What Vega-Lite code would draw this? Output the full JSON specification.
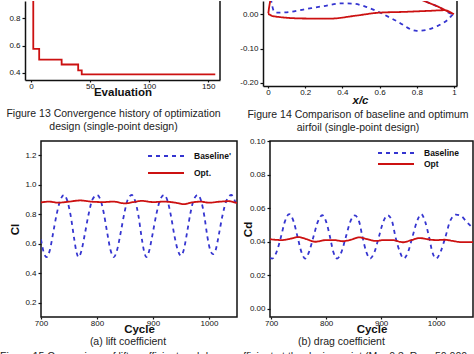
{
  "$schema": "https://vega.github.io/schema/vega-lite/v6.json",
  "padding": 0,
  "background": "white",
  "bounds": "full",
  "spacing": 3,
  "config": {
    "view": {"stroke": null},
    "font": "Liberation Sans",
    "axis": {
      "labelFont": "Liberation Sans", "labelFontSize": 8, "labelColor": "#111",
      "tickColor": "#111", "tickWidth": 1.2,
      "domainColor": "#111", "domainWidth": 1.5,
      "titleFont": "Liberation Sans", "titleFontSize": 11.5, "titleFontWeight": "bold", "titleColor": "#111",
      "grid": false, "labelFlush": false, "labelOverlap": false, "labelSeparation": 0
    },
    "axisX": {"tickSize": 2, "labelPadding": 0},
    "axisY": {"tickSize": 3, "labelPadding": 2},
    "title": {"font": "Liberation Sans", "fontWeight": "normal", "fontSize": 10.5, "color": "#222", "lineHeight": 13},
    "legend": {"labelFont": "Liberation Sans", "labelFontSize": 8.5, "labelFontWeight": "bold", "labelColor": "#111"}
  },
  "title": {
    "text": "Figure 15 Comparison of lift coefficient and drag coefficient at the design point (M = 0.3, Re = 50,000 and α = 4°)",
    "orient": "bottom", "anchor": "start", "frame": "bounds", "offset": 4, "dx": -5, "fontSize": 10.5
  },
  "resolve": {"scale": {"color": "independent", "strokeDash": "independent"}, "legend": {"color": "independent", "strokeDash": "independent"}},
  "vconcat": [
    {
      "bounds": "flush",
      "spacing": 0,
      "hconcat": [
        {"width": 20, "height": 10, "data": {"values": [{}]}, "mark": {"type": "rect", "opacity": 0}, "encoding": {}},
        {
          "width": 195, "height": 79,
          "title": {"text": ["Figure 13 Convergence history of optimization", "design (single-point design)"], "orient": "bottom", "anchor": "middle", "frame": "group", "dx": -9, "offset": 11},
          "layer": [
            {
              "data": {"values": [
                {"evaluation": 1, "objective": 1.2},
                {"evaluation": 2, "objective": 0.575},
                {"evaluation": 7, "objective": 0.498},
                {"evaluation": 26, "objective": 0.462},
                {"evaluation": 40, "objective": 0.419},
                {"evaluation": 43, "objective": 0.39},
                {"evaluation": 156, "objective": 0.39}
              ]},
              "mark": {"type": "line", "interpolate": "step-after", "color": "#cc1111", "strokeWidth": 1.8, "clip": true},
              "encoding": {
                "x": {"field": "evaluation", "type": "quantitative", "scale": {"domain": [-5, 160], "nice": false, "zero": false}, "axis": {"values": [0, 50, 100, 150], "title": "Evaluation", "titlePadding": -4, "labelOverlap": false}},
                "y": {"field": "objective", "type": "quantitative", "scale": {"domain": [0.349, 0.924], "nice": false, "zero": false}, "axis": {"values": [0.4, 0.6, 0.8], "format": ".1f", "title": null, "labelOverlap": false}}
              }
            },
            {
              "data": {"values": [{}]},
              "mark": {"type": "rule", "color": "#111", "strokeWidth": 1.5},
              "encoding": {"x": {"datum": 160}}
            }
          ]
        },
        {"width": 43, "height": 10, "data": {"values": [{}]}, "mark": {"type": "rect", "opacity": 0}, "encoding": {}},
        {
          "width": 194, "height": 85,
          "title": {"text": ["Figure 14 Comparison of baseline and optimum", "airfoil (single-point design)"], "orient": "bottom", "anchor": "middle", "frame": "group", "dx": -2, "offset": 4},
          "layer": [
            {
              "data": {"values": [
                {"series": "Baseline", "i": 0, "xc": 0.015, "yc": 0.045},
                {"series": "Baseline", "i": 1, "xc": 0.022, "yc": 0.025},
                {"series": "Baseline", "i": 2, "xc": 0.03, "yc": 0.01},
                {"series": "Baseline", "i": 3, "xc": 0.045, "yc": 0.004},
                {"series": "Baseline", "i": 4, "xc": 0.1, "yc": 0.005},
                {"series": "Baseline", "i": 5, "xc": 0.19, "yc": 0.013},
                {"series": "Baseline", "i": 6, "xc": 0.3, "yc": 0.023},
                {"series": "Baseline", "i": 7, "xc": 0.4, "yc": 0.031},
                {"series": "Baseline", "i": 8, "xc": 0.46, "yc": 0.03},
                {"series": "Baseline", "i": 9, "xc": 0.52, "yc": 0.022},
                {"series": "Baseline", "i": 10, "xc": 0.586, "yc": 0.008},
                {"series": "Baseline", "i": 11, "xc": 0.69, "yc": -0.02},
                {"series": "Baseline", "i": 12, "xc": 0.8, "yc": -0.049},
                {"series": "Baseline", "i": 13, "xc": 0.91, "yc": -0.035},
                {"series": "Baseline", "i": 14, "xc": 0.97, "yc": -0.015},
                {"series": "Baseline", "i": 15, "xc": 1.0, "yc": 0.0},
                {"series": "Baseline", "i": 16, "xc": 0.907, "yc": 0.023},
                {"series": "Baseline", "i": 17, "xc": 0.84, "yc": 0.0377},
                {"series": "Baseline", "i": 18, "xc": 0.82, "yc": 0.042},
                {"series": "Opt", "i": 0, "xc": 0.014, "yc": 0.045},
                {"series": "Opt", "i": 1, "xc": 0.006, "yc": 0.02},
                {"series": "Opt", "i": 2, "xc": 0.0, "yc": 0.0},
                {"series": "Opt", "i": 3, "xc": 0.02, "yc": -0.005},
                {"series": "Opt", "i": 4, "xc": 0.066, "yc": -0.009},
                {"series": "Opt", "i": 5, "xc": 0.19, "yc": -0.013},
                {"series": "Opt", "i": 6, "xc": 0.33, "yc": -0.0135},
                {"series": "Opt", "i": 7, "xc": 0.47, "yc": -0.005},
                {"series": "Opt", "i": 8, "xc": 0.6, "yc": 0.004},
                {"series": "Opt", "i": 9, "xc": 0.72, "yc": 0.006},
                {"series": "Opt", "i": 10, "xc": 0.86, "yc": 0.009},
                {"series": "Opt", "i": 11, "xc": 0.95, "yc": 0.011},
                {"series": "Opt", "i": 12, "xc": 1.0, "yc": 0.0},
                {"series": "Opt", "i": 13, "xc": 0.907, "yc": 0.023},
                {"series": "Opt", "i": 14, "xc": 0.84, "yc": 0.0377},
                {"series": "Opt", "i": 15, "xc": 0.82, "yc": 0.042}
              ]},
              "mark": {"type": "line", "interpolate": "monotone", "strokeWidth": 1.8, "clip": true},
              "encoding": {
                "x": {"field": "xc", "type": "quantitative", "scale": {"domain": [-0.027, 1.016], "nice": false, "zero": false}, "axis": {"values": [0, 0.2, 0.4, 0.6, 0.8, 1], "format": "~g", "title": "x/c", "titleFontStyle": "italic", "titlePadding": -2, "labelOverlap": false, "labelSeparation": 0}},
                "y": {"field": "yc", "type": "quantitative", "scale": {"domain": [-0.2087, 0.0377], "nice": false, "zero": false}, "axis": {"values": [-0.2, -0.1, 0], "labelExpr": "replace(format(datum.value, '.2f'), '−', '-')", "title": null, "labelOverlap": false}},
                "order": {"field": "i", "type": "quantitative"},
                "color": {"field": "series", "type": "nominal", "scale": {"domain": ["Baseline", "Opt"], "range": ["#3535d0", "#cc1111"]}, "legend": null},
                "strokeDash": {"field": "series", "type": "nominal", "scale": {"domain": ["Baseline", "Opt"], "range": [[4, 4], [1, 0]]}, "legend": null}
              }
            },
            {
              "data": {"values": [{}]},
              "mark": {"type": "rule", "color": "#111", "strokeWidth": 1.5},
              "encoding": {"x": {"datum": 1.016, "type": "quantitative", "axis": {"values": [0, 0.2, 0.4, 0.6, 0.8, 1], "format": "~g", "title": "x/c", "titleFontStyle": "italic", "titlePadding": -2, "labelOverlap": false, "labelSeparation": 0}}}
            }
          ]
        }
      ],
      "resolve": {"scale": {"color": "independent", "strokeDash": "independent"}}
    },
    {
      "bounds": "flush",
      "spacing": 0,
      "hconcat": [
        {"width": 36, "height": 10, "data": {"values": [{}]}, "mark": {"type": "rect", "opacity": 0}, "encoding": {}},
        {
          "width": 196, "height": 176,
          "view": {"stroke": "#111", "strokeWidth": 1.5},
          "title": {"text": "(a) lift coefficient", "orient": "bottom", "anchor": "middle", "frame": "group", "dx": -11, "offset": 2},
          "data": {"values": [
            {"series": "Baseline'", "cycle": 700, "cl": 0.63},
            {"series": "Baseline'", "cycle": 705, "cl": 0.54},
            {"series": "Baseline'", "cycle": 710, "cl": 0.51},
            {"series": "Baseline'", "cycle": 716, "cl": 0.56},
            {"series": "Baseline'", "cycle": 722, "cl": 0.68},
            {"series": "Baseline'", "cycle": 728, "cl": 0.8},
            {"series": "Baseline'", "cycle": 734, "cl": 0.89},
            {"series": "Baseline'", "cycle": 741, "cl": 0.93},
            {"series": "Baseline'", "cycle": 747, "cl": 0.89},
            {"series": "Baseline'", "cycle": 753, "cl": 0.79},
            {"series": "Baseline'", "cycle": 759, "cl": 0.64},
            {"series": "Baseline'", "cycle": 763, "cl": 0.55},
            {"series": "Baseline'", "cycle": 767, "cl": 0.51},
            {"series": "Baseline'", "cycle": 772, "cl": 0.55},
            {"series": "Baseline'", "cycle": 778, "cl": 0.66},
            {"series": "Baseline'", "cycle": 785, "cl": 0.8},
            {"series": "Baseline'", "cycle": 792, "cl": 0.9},
            {"series": "Baseline'", "cycle": 800, "cl": 0.93},
            {"series": "Baseline'", "cycle": 806, "cl": 0.9},
            {"series": "Baseline'", "cycle": 812, "cl": 0.81},
            {"series": "Baseline'", "cycle": 818, "cl": 0.68},
            {"series": "Baseline'", "cycle": 824, "cl": 0.56},
            {"series": "Baseline'", "cycle": 830, "cl": 0.51},
            {"series": "Baseline'", "cycle": 836, "cl": 0.56},
            {"series": "Baseline'", "cycle": 843, "cl": 0.69},
            {"series": "Baseline'", "cycle": 849, "cl": 0.81},
            {"series": "Baseline'", "cycle": 855, "cl": 0.9},
            {"series": "Baseline'", "cycle": 862, "cl": 0.93},
            {"series": "Baseline'", "cycle": 868, "cl": 0.89},
            {"series": "Baseline'", "cycle": 874, "cl": 0.79},
            {"series": "Baseline'", "cycle": 879, "cl": 0.66},
            {"series": "Baseline'", "cycle": 884, "cl": 0.55},
            {"series": "Baseline'", "cycle": 888, "cl": 0.51},
            {"series": "Baseline'", "cycle": 893, "cl": 0.55},
            {"series": "Baseline'", "cycle": 899, "cl": 0.66},
            {"series": "Baseline'", "cycle": 906, "cl": 0.8},
            {"series": "Baseline'", "cycle": 913, "cl": 0.9},
            {"series": "Baseline'", "cycle": 920, "cl": 0.93},
            {"series": "Baseline'", "cycle": 926, "cl": 0.89},
            {"series": "Baseline'", "cycle": 932, "cl": 0.79},
            {"series": "Baseline'", "cycle": 938, "cl": 0.66},
            {"series": "Baseline'", "cycle": 944, "cl": 0.56},
            {"series": "Baseline'", "cycle": 950, "cl": 0.52},
            {"series": "Baseline'", "cycle": 955, "cl": 0.56},
            {"series": "Baseline'", "cycle": 961, "cl": 0.68},
            {"series": "Baseline'", "cycle": 967, "cl": 0.81},
            {"series": "Baseline'", "cycle": 973, "cl": 0.9},
            {"series": "Baseline'", "cycle": 980, "cl": 0.93},
            {"series": "Baseline'", "cycle": 986, "cl": 0.89},
            {"series": "Baseline'", "cycle": 992, "cl": 0.78},
            {"series": "Baseline'", "cycle": 997, "cl": 0.65},
            {"series": "Baseline'", "cycle": 1002, "cl": 0.56},
            {"series": "Baseline'", "cycle": 1007, "cl": 0.53},
            {"series": "Baseline'", "cycle": 1012, "cl": 0.56},
            {"series": "Baseline'", "cycle": 1018, "cl": 0.67},
            {"series": "Baseline'", "cycle": 1024, "cl": 0.79},
            {"series": "Baseline'", "cycle": 1031, "cl": 0.89},
            {"series": "Baseline'", "cycle": 1040, "cl": 0.93},
            {"series": "Baseline'", "cycle": 1045, "cl": 0.9},
            {"series": "Baseline'", "cycle": 1050, "cl": 0.85},
            {"series": "Opt.", "cycle": 700, "cl": 0.88},
            {"series": "Opt.", "cycle": 715, "cl": 0.885},
            {"series": "Opt.", "cycle": 730, "cl": 0.878},
            {"series": "Opt.", "cycle": 750, "cl": 0.885},
            {"series": "Opt.", "cycle": 770, "cl": 0.893},
            {"series": "Opt.", "cycle": 790, "cl": 0.885},
            {"series": "Opt.", "cycle": 810, "cl": 0.882},
            {"series": "Opt.", "cycle": 830, "cl": 0.885},
            {"series": "Opt.", "cycle": 850, "cl": 0.873},
            {"series": "Opt.", "cycle": 865, "cl": 0.882},
            {"series": "Opt.", "cycle": 880, "cl": 0.89},
            {"series": "Opt.", "cycle": 900, "cl": 0.882},
            {"series": "Opt.", "cycle": 920, "cl": 0.885},
            {"series": "Opt.", "cycle": 940, "cl": 0.878},
            {"series": "Opt.", "cycle": 955, "cl": 0.868},
            {"series": "Opt.", "cycle": 970, "cl": 0.88},
            {"series": "Opt.", "cycle": 985, "cl": 0.885},
            {"series": "Opt.", "cycle": 1000, "cl": 0.878},
            {"series": "Opt.", "cycle": 1020, "cl": 0.885},
            {"series": "Opt.", "cycle": 1035, "cl": 0.888},
            {"series": "Opt.", "cycle": 1050, "cl": 0.875}
          ]},
          "mark": {"type": "line", "interpolate": "monotone", "strokeWidth": 1.8, "clip": true},
          "encoding": {
            "x": {"field": "cycle", "type": "quantitative", "scale": {"domain": [700, 1050], "nice": false, "zero": false}, "axis": {"values": [700, 800, 900, 1000], "format": "d", "title": "Cycle", "domain": false, "titlePadding": -4}},
            "y": {"field": "cl", "type": "quantitative", "scale": {"domain": [0.105, 1.295], "nice": false, "zero": false}, "axis": {"values": [0.2, 0.4, 0.6, 0.8, 1.0, 1.2], "format": ".1f", "title": "Cl", "domain": false, "titlePadding": 4}},
            "color": {"field": "series", "type": "nominal", "scale": {"domain": ["Baseline'", "Opt."], "range": ["#3535d0", "#cc1111"]},
              "legend": {"title": null, "orient": "none", "legendX": 120, "legendY": 10, "symbolType": "M-4.5,0H4.5", "symbolSize": 64, "symbolStrokeWidth": 2, "labelOffset": 23, "rowPadding": 7, "padding": 0}},
            "strokeDash": {"field": "series", "type": "nominal", "scale": {"domain": ["Baseline'", "Opt."], "range": [[4, 4], [1, 0]]},
              "legend": {"title": null, "orient": "none", "legendX": 120, "legendY": 10, "symbolType": "M-4.5,0H4.5", "symbolSize": 64, "symbolStrokeWidth": 2, "labelOffset": 23, "rowPadding": 7, "padding": 0}}
          }
        },
        {"width": 33, "height": 10, "data": {"values": [{}]}, "mark": {"type": "rect", "opacity": 0}, "encoding": {}},
        {
          "width": 203, "height": 176,
          "view": {"stroke": "#111", "strokeWidth": 1.5},
          "title": {"text": "(b) drag coefficient", "orient": "bottom", "anchor": "middle", "frame": "group", "dx": -30, "offset": 2},
          "data": {"values": [
            {"series": "Baseline", "cycle": 698, "cd": 0.0305},
            {"series": "Baseline", "cycle": 702, "cd": 0.030},
            {"series": "Baseline", "cycle": 710, "cd": 0.034},
            {"series": "Baseline", "cycle": 718, "cd": 0.043},
            {"series": "Baseline", "cycle": 725, "cd": 0.052},
            {"series": "Baseline", "cycle": 733, "cd": 0.0565},
            {"series": "Baseline", "cycle": 741, "cd": 0.052},
            {"series": "Baseline", "cycle": 748, "cd": 0.043},
            {"series": "Baseline", "cycle": 755, "cd": 0.034},
            {"series": "Baseline", "cycle": 762, "cd": 0.030},
            {"series": "Baseline", "cycle": 769, "cd": 0.034},
            {"series": "Baseline", "cycle": 777, "cd": 0.043},
            {"series": "Baseline", "cycle": 785, "cd": 0.052},
            {"series": "Baseline", "cycle": 793, "cd": 0.0558},
            {"series": "Baseline", "cycle": 800, "cd": 0.052},
            {"series": "Baseline", "cycle": 807, "cd": 0.043},
            {"series": "Baseline", "cycle": 813, "cd": 0.034},
            {"series": "Baseline", "cycle": 820, "cd": 0.030},
            {"series": "Baseline", "cycle": 828, "cd": 0.034},
            {"series": "Baseline", "cycle": 836, "cd": 0.043},
            {"series": "Baseline", "cycle": 844, "cd": 0.052},
            {"series": "Baseline", "cycle": 852, "cd": 0.0557},
            {"series": "Baseline", "cycle": 860, "cd": 0.052},
            {"series": "Baseline", "cycle": 866, "cd": 0.043},
            {"series": "Baseline", "cycle": 873, "cd": 0.034},
            {"series": "Baseline", "cycle": 880, "cd": 0.030},
            {"series": "Baseline", "cycle": 888, "cd": 0.034},
            {"series": "Baseline", "cycle": 896, "cd": 0.043},
            {"series": "Baseline", "cycle": 904, "cd": 0.052},
            {"series": "Baseline", "cycle": 912, "cd": 0.0558},
            {"series": "Baseline", "cycle": 920, "cd": 0.052},
            {"series": "Baseline", "cycle": 926, "cd": 0.043},
            {"series": "Baseline", "cycle": 934, "cd": 0.034},
            {"series": "Baseline", "cycle": 941, "cd": 0.030},
            {"series": "Baseline", "cycle": 949, "cd": 0.034},
            {"series": "Baseline", "cycle": 957, "cd": 0.043},
            {"series": "Baseline", "cycle": 965, "cd": 0.052},
            {"series": "Baseline", "cycle": 973, "cd": 0.0565},
            {"series": "Baseline", "cycle": 980, "cd": 0.052},
            {"series": "Baseline", "cycle": 987, "cd": 0.043},
            {"series": "Baseline", "cycle": 993, "cd": 0.034},
            {"series": "Baseline", "cycle": 1000, "cd": 0.030},
            {"series": "Baseline", "cycle": 1008, "cd": 0.034},
            {"series": "Baseline", "cycle": 1017, "cd": 0.043},
            {"series": "Baseline", "cycle": 1025, "cd": 0.052},
            {"series": "Baseline", "cycle": 1036, "cd": 0.0562},
            {"series": "Baseline", "cycle": 1045, "cd": 0.0555},
            {"series": "Baseline", "cycle": 1055, "cd": 0.052},
            {"series": "Baseline", "cycle": 1067, "cd": 0.048},
            {"series": "Opt", "cycle": 698, "cd": 0.0415},
            {"series": "Opt", "cycle": 720, "cd": 0.041},
            {"series": "Opt", "cycle": 735, "cd": 0.0418},
            {"series": "Opt", "cycle": 750, "cd": 0.0428},
            {"series": "Opt", "cycle": 765, "cd": 0.0415},
            {"series": "Opt", "cycle": 780, "cd": 0.040},
            {"series": "Opt", "cycle": 800, "cd": 0.041},
            {"series": "Opt", "cycle": 815, "cd": 0.041},
            {"series": "Opt", "cycle": 830, "cd": 0.0403},
            {"series": "Opt", "cycle": 845, "cd": 0.0412},
            {"series": "Opt", "cycle": 860, "cd": 0.0426},
            {"series": "Opt", "cycle": 875, "cd": 0.0415},
            {"series": "Opt", "cycle": 890, "cd": 0.0405},
            {"series": "Opt", "cycle": 905, "cd": 0.041},
            {"series": "Opt", "cycle": 920, "cd": 0.041},
            {"series": "Opt", "cycle": 940, "cd": 0.0397},
            {"series": "Opt", "cycle": 955, "cd": 0.041},
            {"series": "Opt", "cycle": 970, "cd": 0.0422},
            {"series": "Opt", "cycle": 985, "cd": 0.0415},
            {"series": "Opt", "cycle": 1000, "cd": 0.041},
            {"series": "Opt", "cycle": 1015, "cd": 0.0412},
            {"series": "Opt", "cycle": 1030, "cd": 0.0405},
            {"series": "Opt", "cycle": 1045, "cd": 0.0398},
            {"series": "Opt", "cycle": 1067, "cd": 0.0398}
          ]},
          "mark": {"type": "line", "interpolate": "monotone", "strokeWidth": 1.8, "clip": true},
          "encoding": {
            "x": {"field": "cycle", "type": "quantitative", "scale": {"domain": [698, 1067], "nice": false, "zero": false}, "axis": {"values": [700, 800, 900, 1000], "format": "d", "title": "Cycle", "domain": false, "titlePadding": -4}},
            "y": {"field": "cd", "type": "quantitative", "scale": {"domain": [-0.0048, 0.1], "nice": false, "zero": false}, "axis": {"values": [0, 0.02, 0.04, 0.06, 0.08, 0.1], "format": ".2f", "title": "Cd", "domain": false, "titlePadding": -4}},
            "color": {"field": "series", "type": "nominal", "scale": {"domain": ["Baseline", "Opt"], "range": ["#3535d0", "#cc1111"]},
              "legend": {"title": null, "orient": "none", "legendX": 121, "legendY": 7, "symbolType": "M-4.5,0H4.5", "symbolSize": 64, "symbolStrokeWidth": 2, "labelOffset": 23, "rowPadding": 1, "padding": 0}},
            "strokeDash": {"field": "series", "type": "nominal", "scale": {"domain": ["Baseline", "Opt"], "range": [[4, 4], [1, 0]]},
              "legend": {"title": null, "orient": "none", "legendX": 121, "legendY": 7, "symbolType": "M-4.5,0H4.5", "symbolSize": 64, "symbolStrokeWidth": 2, "labelOffset": 23, "rowPadding": 1, "padding": 0}}
          }
        }
      ],
      "resolve": {"scale": {"color": "independent", "strokeDash": "independent"}}
    }
  ]
}
